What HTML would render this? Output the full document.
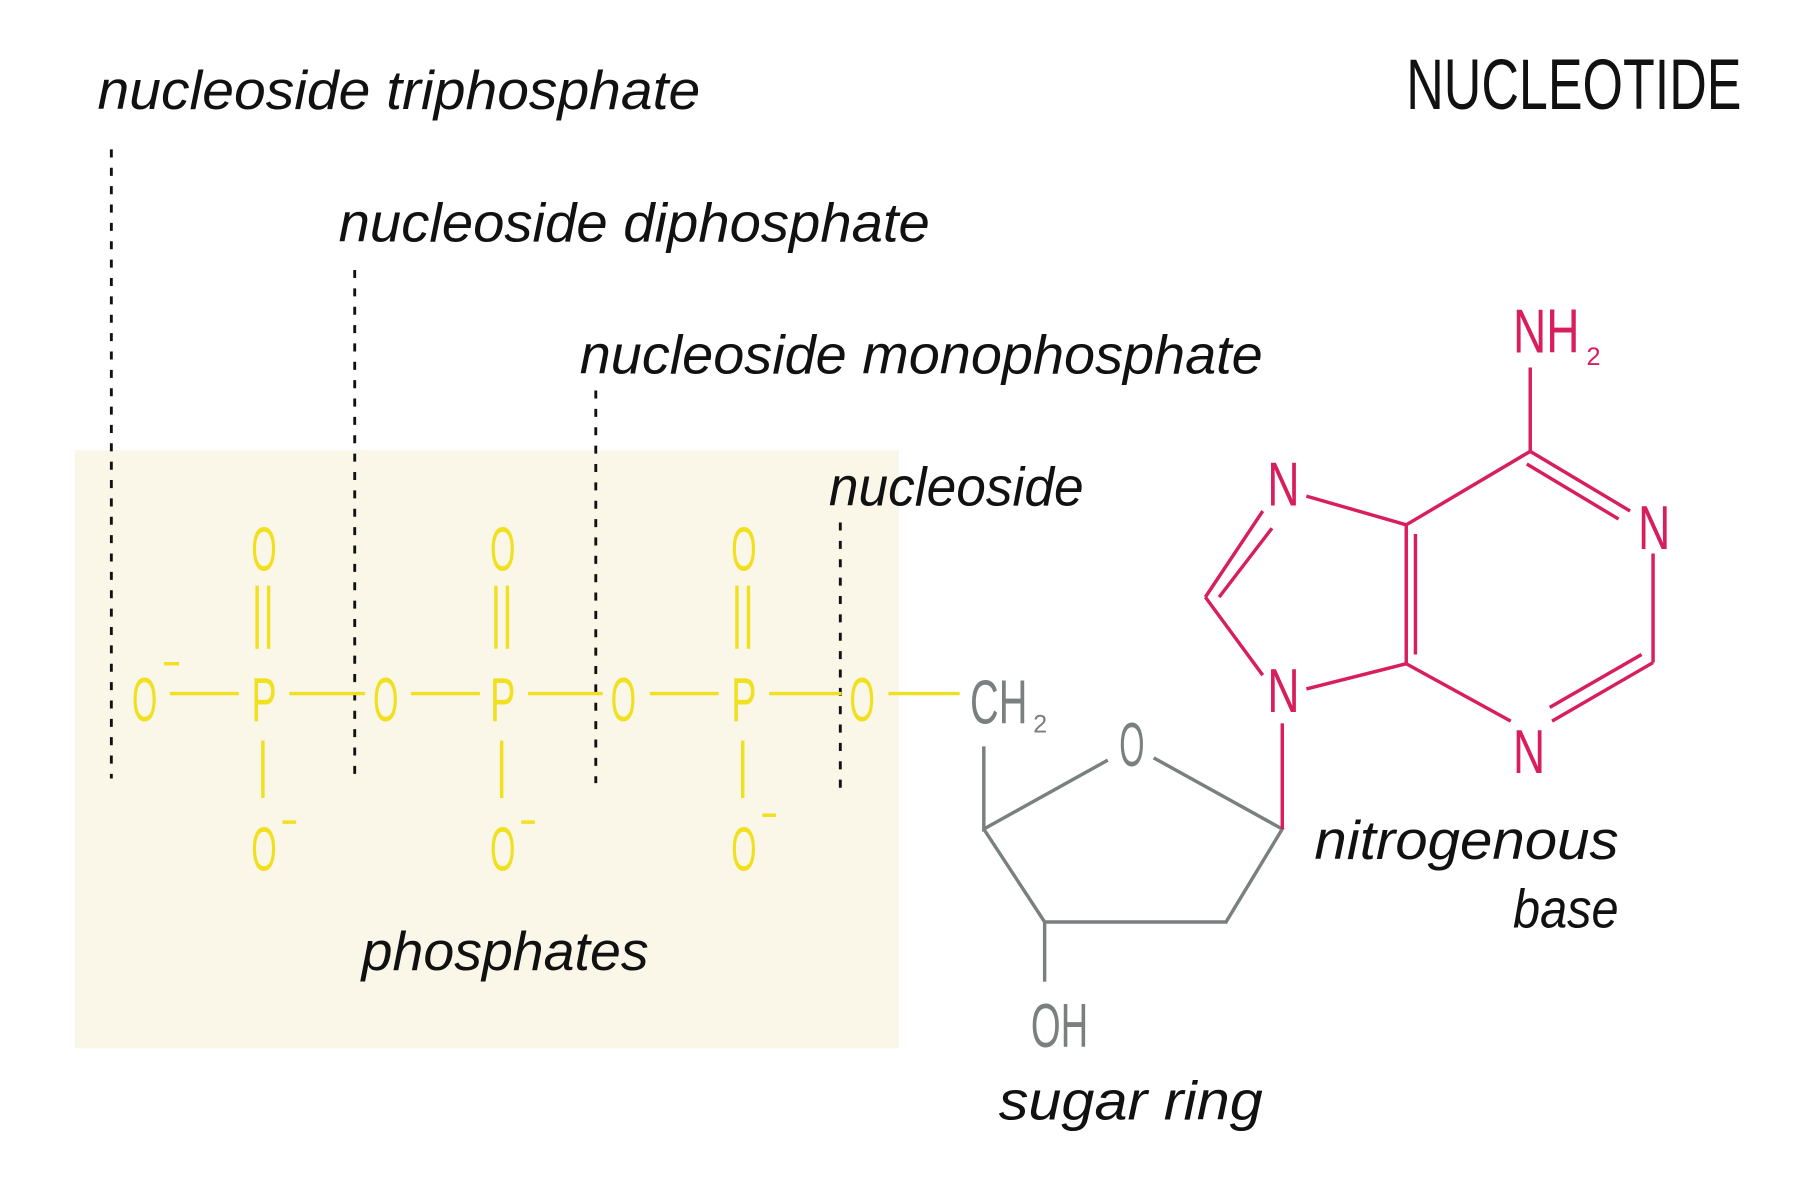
<!DOCTYPE html>
<html><head><meta charset="utf-8"><style>
html,body{margin:0;padding:0;background:#fff;}
svg{display:block;}
text{font-family:"Liberation Sans",sans-serif;}
</style></head><body>
<svg width="1800" height="1200" viewBox="0 0 1568 1045" xmlns="http://www.w3.org/2000/svg">
<rect width="1568" height="1045" fill="#fff"/>
<rect x="65" y="392" width="718" height="521" fill="#faf7e8"/>
<g font-size="48" font-style="italic" fill="#111" lengthAdjust="spacingAndGlyphs">
<text x="85" y="95" textLength="525" lengthAdjust="spacingAndGlyphs">nucleoside triphosphate</text>
<text x="295" y="210" textLength="515" lengthAdjust="spacingAndGlyphs">nucleoside diphosphate</text>
<text x="505" y="325" textLength="595" lengthAdjust="spacingAndGlyphs">nucleoside monophosphate</text>
<text x="722" y="440" textLength="222" lengthAdjust="spacingAndGlyphs">nucleoside</text>
<text x="315" y="845" textLength="250" lengthAdjust="spacingAndGlyphs">phosphates</text>
<text x="870" y="975" textLength="230" lengthAdjust="spacingAndGlyphs">sugar ring</text>
<text x="1145" y="748" textLength="265" lengthAdjust="spacingAndGlyphs">nitrogenous</text>
<text x="1318" y="808" textLength="92" lengthAdjust="spacingAndGlyphs">base</text>
</g>
<text x="1225" y="95" font-size="62" fill="#111" textLength="292" lengthAdjust="spacingAndGlyphs">NUCLEOTIDE</text>
<g stroke="#111" stroke-width="2.5" stroke-dasharray="7,9">
<line x1="97" y1="130" x2="97" y2="678"/>
<line x1="309" y1="235" x2="309" y2="678"/>
<line x1="519" y1="340" x2="519" y2="682"/>
<line x1="732" y1="455" x2="732" y2="693"/>
</g>
<g fill="#f0e020" font-size="54">
<text x="115" y="628" textLength="22" lengthAdjust="spacingAndGlyphs">O</text>
<text x="219" y="628" textLength="22" lengthAdjust="spacingAndGlyphs">P</text>
<text x="325" y="628" textLength="22" lengthAdjust="spacingAndGlyphs">O</text>
<text x="427" y="628" textLength="22" lengthAdjust="spacingAndGlyphs">P</text>
<text x="532" y="628" textLength="22" lengthAdjust="spacingAndGlyphs">O</text>
<text x="637" y="628" textLength="22" lengthAdjust="spacingAndGlyphs">P</text>
<text x="740" y="628" textLength="22" lengthAdjust="spacingAndGlyphs">O</text>
<text x="219" y="497" textLength="22" lengthAdjust="spacingAndGlyphs">O</text>
<text x="427" y="497" textLength="22" lengthAdjust="spacingAndGlyphs">O</text>
<text x="637" y="497" textLength="22" lengthAdjust="spacingAndGlyphs">O</text>
<text x="219" y="758" textLength="22" lengthAdjust="spacingAndGlyphs">O</text>
<text x="427" y="758" textLength="22" lengthAdjust="spacingAndGlyphs">O</text>
<text x="637" y="758" textLength="22" lengthAdjust="spacingAndGlyphs">O</text>
</g>
<g stroke="#f0e020" stroke-width="3">
<line x1="143" y1="578" x2="156" y2="578"/>
<line x1="246" y1="716" x2="258" y2="716"/>
<line x1="454" y1="716" x2="466" y2="716"/>
<line x1="664" y1="710" x2="676" y2="710"/>
<line x1="148" y1="604" x2="208" y2="604"/>
<line x1="252" y1="604" x2="318" y2="604"/>
<line x1="358" y1="604" x2="418" y2="604"/>
<line x1="460" y1="604" x2="525" y2="604"/>
<line x1="566" y1="604" x2="626" y2="604"/>
<line x1="670" y1="604" x2="733" y2="604"/>
<line x1="774" y1="604" x2="836" y2="604"/>
<line x1="224" y1="510" x2="224" y2="565"/><line x1="234" y1="510" x2="234" y2="565"/>
<line x1="432" y1="510" x2="432" y2="565"/><line x1="442" y1="510" x2="442" y2="565"/>
<line x1="642" y1="510" x2="642" y2="565"/><line x1="652" y1="510" x2="652" y2="565"/>
<line x1="229" y1="645" x2="229" y2="695"/>
<line x1="437" y1="645" x2="437" y2="695"/>
<line x1="647" y1="645" x2="647" y2="695"/>
</g>
<g fill="#7a7f80" font-size="54">
<text x="845" y="630" textLength="50" lengthAdjust="spacingAndGlyphs">CH</text><text x="900" y="638" font-size="22">2</text>
<text x="975" y="667" textLength="22" lengthAdjust="spacingAndGlyphs">O</text>
<text x="898" y="912" textLength="50" lengthAdjust="spacingAndGlyphs">OH</text>
</g>
<g stroke="#7a7f80" stroke-width="3" fill="none">
<polyline points="857,650 857,722 965,662"/>
<polyline points="1005,660 1117,722 1068,803 910,803 857,722"/>
<line x1="910" y1="803" x2="910" y2="855"/>
</g>
<g fill="#d81e5b" font-size="54">
<text x="1104" y="620" textLength="28" lengthAdjust="spacingAndGlyphs">N</text>
<text x="1104" y="440" textLength="28" lengthAdjust="spacingAndGlyphs">N</text>
<text x="1427" y="478" textLength="28" lengthAdjust="spacingAndGlyphs">N</text>
<text x="1318" y="673" textLength="28" lengthAdjust="spacingAndGlyphs">N</text>
<text x="1318" y="307" textLength="58" lengthAdjust="spacingAndGlyphs">NH</text><text x="1382" y="318" font-size="22">2</text>
</g>
<g stroke="#d81e5b" stroke-width="3" fill="none">
<line x1="1117" y1="630" x2="1117" y2="722"/>
<line x1="1138" y1="600" x2="1225" y2="578"/>
<line x1="1225" y1="578" x2="1225" y2="457"/>
<line x1="1233" y1="570" x2="1233" y2="465"/>
<line x1="1225" y1="457" x2="1138" y2="432"/>
<line x1="1100" y1="445" x2="1050" y2="520"/>
<line x1="1108" y1="460" x2="1062" y2="520"/>
<line x1="1050" y1="520" x2="1100" y2="588"/>
<line x1="1225" y1="457" x2="1333" y2="393"/>
<line x1="1333" y1="393" x2="1420" y2="445"/>
<line x1="1330" y1="404" x2="1410" y2="452"/>
<line x1="1440" y1="482" x2="1440" y2="577"/>
<line x1="1440" y1="577" x2="1352" y2="628"/>
<line x1="1430" y1="570" x2="1350" y2="616"/>
<line x1="1316" y1="628" x2="1225" y2="578"/>
<line x1="1333" y1="393" x2="1333" y2="320"/>
</g>
</svg>
</body></html>
